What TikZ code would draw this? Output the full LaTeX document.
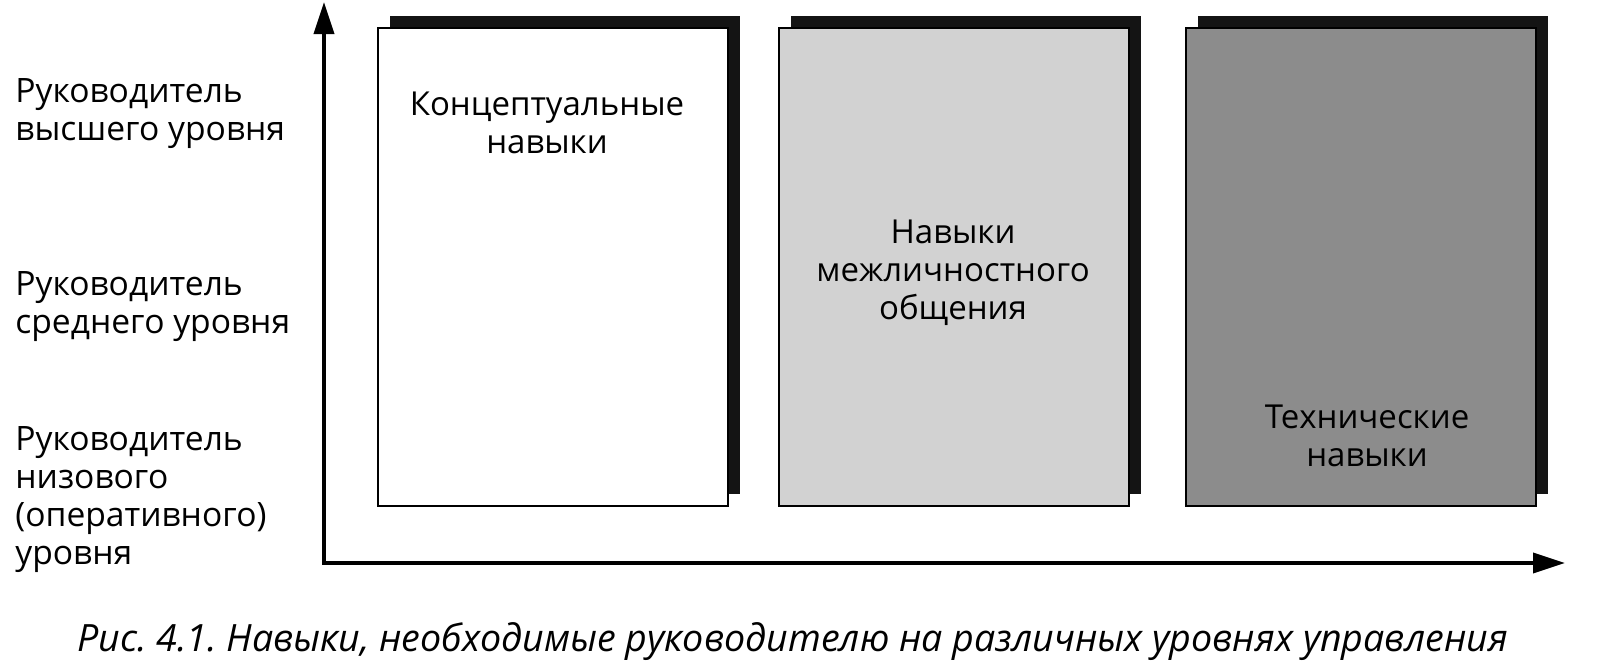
\documentclass[tikz,border=0pt]{standalone}
\usepackage{fontspec}
\setmainfont{Open Sans}
\usetikzlibrary{arrows.meta,shadows}
\definecolor{lightskill}{HTML}{D2D2D2}
\definecolor{darkskill}{HTML}{8C8C8C}
\frenchspacing
\tikzset{
	skill/.style={draw=black, line width=1pt, minimum width=175pt, minimum height=239pt, inner sep=0pt,
		drop shadow={shadow xshift=6pt, shadow yshift=6pt, fill=black!92, opacity=1}},
	level/.style={anchor=north west, align=left, inner sep=0pt, font=\fontsize{16.8pt}{19pt}\selectfont},
	skilltext/.style={anchor=north, align=center, inner sep=0pt, font=\fontsize{16.5pt}{19pt}\selectfont},
	axis/.style={line width=1.8pt, {Triangle[length=16pt,width=10pt]}-{Triangle[length=16pt,width=10pt]}}
}

\begin{document}
\begin{tikzpicture}[x=0.5pt,y=-0.5pt]
		%%%%% START %%%%%
		\useasboundingbox[fill=white] (0, 0) rectangle (1609, 669);
		
		\coordinate (ytip) at (324, 2);
		\coordinate (origin) at (324, 563);
		\coordinate (xtip) at (1565, 563);
		\draw[axis] (ytip) -- (origin) -- (xtip);
		
		\node[level] (top) at (15, 78) {Руководитель\\высшего уровня};
		\node[level] (middle) at (15, 271) {Руководитель\\среднего уровня};
		\node[level] (low) at (15, 426) {Руководитель\\низового\\(оперативного)\\уровня};
		
		\node[skill, fill=white] (concept) at (553, 267) {};
		\node[skill, fill=lightskill] (human) at (954, 267) {};
		\node[skill, fill=darkskill] (tech) at (1361, 267) {};
		
		\node[skilltext] (concepttext) at (547, 92) {Концептуальные\\навыки};
		\node[skilltext] (humantext) at (953, 220) {Навыки\\межличностного\\общения};
		\node[skilltext] (techtext) at (1367, 405) {Технические\\навыки};
		
		\node[anchor=north west, inner sep=0pt, font=\fontsize{18.8pt}{20pt}\selectfont\itshape] (caption) at (77, 622)
			{Рис. 4.1. Навыки, необходимые руководителю на различных уровнях управления};
		%%%%% END %%%%%
	\end{tikzpicture}
\end{document}
